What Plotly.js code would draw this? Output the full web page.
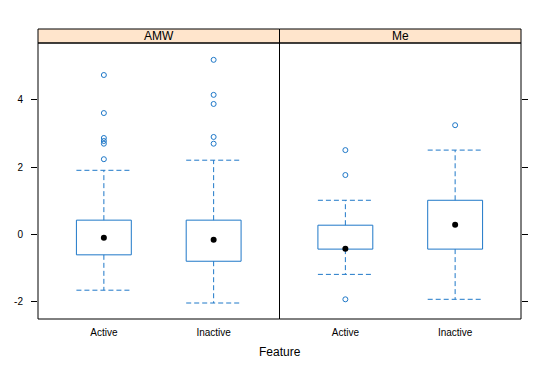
<!DOCTYPE html>
<html>
<head>
<meta charset="utf-8">
<script src="https://cdn.plot.ly/plotly-3.0.1.min.js"></script>
<style>html,body{margin:0;padding:0;background:#fff;}#chart{width:550px;height:368px;}</style>
</head>
<body>
<div id="chart"></div>
<script>
// ---- data ----
const panels = ["AMW", "Me"];
const categories = ["Active", "Inactive"];
// per panel: [Active, Inactive]
const lowerWhisker = [[-1.65, -2.03], [-1.18, -1.92]];
const q1Values     = [[-0.60, -0.79], [-0.43, -0.43]];
const medianValues = [[-0.09, -0.15], [-0.42, 0.29]];
const q3Values     = [[0.43, 0.43], [0.28, 1.02]];
const upperWhisker = [[1.91, 2.21], [1.02, 2.51]];
const outliers     = [
  [[4.74, 3.61, 2.87, 2.78, 2.70, 2.24], [5.19, 4.15, 3.88, 2.90, 2.70]],
  [[2.51, 1.77, -1.92], [3.25]]
];
const yTicks = [-2, 0, 2, 4];

// ---- styling ----
const blue = "#1f78c8";
const font = "Liberation Sans, Arial, sans-serif";
const halfW = 0.25;
const traces = [];

panels.forEach((p, pi) => {
  const xa = pi === 0 ? "x" : "x2";
  const ya = pi === 0 ? "y" : "y2";
  categories.forEach((c, ci) => {
    const xc = ci + 1;
    const q1 = q1Values[pi][ci], q3 = q3Values[pi][ci];
    const lo = lowerWhisker[pi][ci], hi = upperWhisker[pi][ci];
    // box rectangle
    traces.push({type: "scatter", mode: "lines", xaxis: xa, yaxis: ya, hoverinfo: "skip",
      x: [xc - halfW, xc + halfW, xc + halfW, xc - halfW, xc - halfW],
      y: [q1, q1, q3, q3, q1],
      line: {color: blue, width: 1}});
    // whiskers (dashed)
    traces.push({type: "scatter", mode: "lines", xaxis: xa, yaxis: ya, hoverinfo: "skip",
      x: [xc, xc, null, xc, xc, null, xc - halfW, xc + halfW, null, xc - halfW, xc + halfW],
      y: [q3, hi, null, q1, lo, null, hi, hi, null, lo, lo],
      line: {color: blue, width: 1, dash: "5px,3px"}});
    // outliers
    traces.push({type: "scatter", mode: "markers", xaxis: xa, yaxis: ya,
      x: outliers[pi][ci].map(() => xc), y: outliers[pi][ci],
      marker: {symbol: "circle-open", size: 5, color: blue, line: {width: 1, color: blue}}});
    // median dot
    traces.push({type: "scatter", mode: "markers", xaxis: xa, yaxis: ya,
      x: [xc], y: [medianValues[pi][ci]],
      marker: {symbol: "circle", size: 6, color: "#000"}});
  });
});

const yRange = [-2.505, 5.69];
const xCommon = {range: [0.4, 2.6], tickvals: [1, 2], ticktext: categories,
  showgrid: false, zeroline: false, showline: false, ticks: "",
  tickfont: {family: font, size: 10, color: "#000"}, ticklabelstandoff: 6, fixedrange: true};
const stripH = 14 / 276;

const shapes = [];
const annotations = [];
panels.forEach((p, pi) => {
  const x0 = pi * 0.5, x1 = x0 + 0.5;
  shapes.push({type: "rect", xref: "paper", yref: "paper", x0, x1, y0: 1, y1: 1 + stripH,
    fillcolor: "#ffe5cc", line: {color: "#000", width: 1}});
  shapes.push({type: "rect", xref: "paper", yref: "paper", x0, x1, y0: 0, y1: 1,
    line: {color: "#000", width: 1}, fillcolor: "rgba(0,0,0,0)"});
  annotations.push({xref: "paper", yref: "paper", x: (x0 + x1) / 2, y: 1 + stripH / 2,
    text: p, showarrow: false, xanchor: "center", yanchor: "middle",
    font: {family: font, size: 12, color: "#000"}});
});
annotations.push({xref: "paper", yref: "paper", x: 0.5, y: -33 / 276, text: "Feature",
  showarrow: false, xanchor: "center", yanchor: "middle",
  font: {family: font, size: 12, color: "#000"}});

const layout = {
  width: 550, height: 368,
  margin: {l: 38, r: 29, t: 43, b: 49, pad: 0},
  paper_bgcolor: "#fff", plot_bgcolor: "#fff",
  showlegend: false,
  xaxis: Object.assign({domain: [0, 0.5], anchor: "y"}, xCommon),
  xaxis2: Object.assign({domain: [0.5, 1], anchor: "y2"}, xCommon),
  yaxis: {range: yRange, tickvals: yTicks, ticktext: yTicks.map(String), ticks: "outside",
    ticklen: 6, tickcolor: "#000", tickwidth: 1, showgrid: false, zeroline: false,
    showline: false, anchor: "x", ticklabelstandoff: 6,
    tickfont: {family: font, size: 10, color: "#000"}, fixedrange: true},
  yaxis2: {range: yRange, matches: "y", tickvals: yTicks, ticks: "outside", ticklen: 6,
    tickcolor: "#000", tickwidth: 1, showticklabels: false, showgrid: false,
    zeroline: false, showline: false, anchor: "x2", side: "right", fixedrange: true},
  shapes, annotations
};

Plotly.newPlot("chart", traces, layout, {displayModeBar: false, staticPlot: true});
</script>
</body>
</html>
